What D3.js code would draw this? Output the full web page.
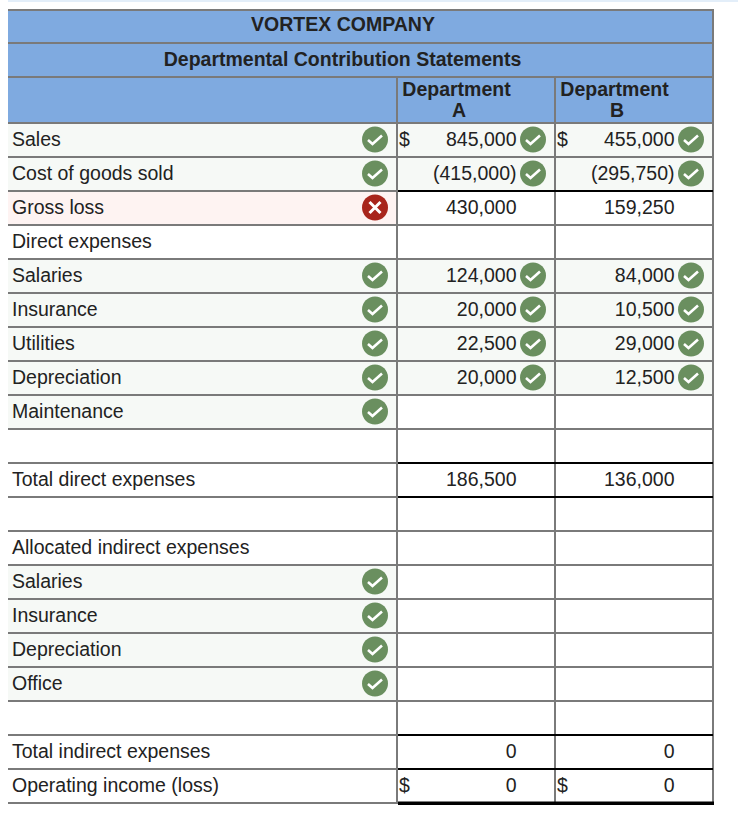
<!DOCTYPE html>
<html>
<head>
<meta charset="utf-8">
<script src="https://cdn.jsdelivr.net/npm/d3@7"></script>
<style>
  html, body { margin: 0; padding: 0; background: #fff; }
  svg { display: block; }
  text { font-family: "Liberation Sans", Arial, sans-serif; font-size: 19.5px; fill: #222; }
</style>
</head>
<body>
<div id="chart"></div>
<script>
var title = 'VORTEX COMPANY'
var subtitle = 'Departmental Contribution Statements'
var deptHeaders = [['Department', 'A'], ['Department', 'B']]

var rowLabels = ['Sales', 'Cost of goods sold', 'Gross loss', 'Direct expenses', 'Salaries', 'Insurance',
  'Utilities', 'Depreciation', 'Maintenance', '', 'Total direct expenses', '', 'Allocated indirect expenses',
  'Salaries', 'Insurance', 'Depreciation', 'Office', '', 'Total indirect expenses', 'Operating income (loss)']

var deptA = [845000, -415000, 430000, null, 124000, 20000, 22500, 20000, null, null, 186500, null, null, null, null, null, null, null, 0, 0]
var deptB = [455000, -295750, 159250, null, 84000, 10500, 29000, 12500, null, null, 136000, null, null, null, null, null, null, null, 0, 0]

// marks: 1 = check, 0 = cross, null = nothing
var labelMarks = [1, 1, 0, null, 1, 1, 1, 1, 1, null, null, null, null, 1, 1, 1, 1, null, null, null]
var deptAMarks = [1, 1, null, null, 1, 1, 1, 1, null, null, null, null, null, null, null, null, null, null, null, null]
var deptBMarks = [1, 1, null, null, 1, 1, 1, 1, null, null, null, null, null, null, null, null, null, null, null, null]

var dollarRows = [0, 19]
var ruleAbove = [2, 10, 11, 18, 19]   // black rule on top of the value cells
var doubleBottom = 19

var width = 738, height = 814
var svg = d3.select('#chart').append('svg').attr('width', width).attr('height', height)

var rows = d3.range(rowLabels.length)
var y = d3.scaleBand().domain(rows).range([123, 803])
// column edges
var x = d3.scaleOrdinal().domain(['label', 'a', 'b', 'end']).range([8, 397, 555, 713])

var grey = '#7a7a7a', headerBlue = '#7faae0', okBg = '#f6f9f6', badBg = '#fef3f2'

svg.append('rect').attr('x', 8).attr('y', 0).attr('width', 730).attr('height', 2).attr('fill', '#e3eef9')
svg.append('rect').attr('x', x('label')).attr('y', 10).attr('width', x('end') - x('label')).attr('height', 113).attr('fill', headerBlue)

var cols = [
  {key: 'label', next: 'a', marks: labelMarks},
  {key: 'a', next: 'b', marks: deptAMarks},
  {key: 'b', next: 'end', marks: deptBMarks}
]

// cell backgrounds
cols.forEach(function(c) {
  svg.append('g').selectAll('rect')
    .data(rows.filter(function(r) { return c.marks[r] !== null }))
    .join('rect')
    .attr('x', x(c.key))
    .attr('y', function(r) { return y(r) })
    .attr('width', x(c.next) - x(c.key))
    .attr('height', y.bandwidth())
    .attr('fill', function(r) { return c.marks[r] === 1 ? okBg : badBg })
})

// grey grid
var hLines = [10, 43, 77].concat(rows.map(function(r) { return y(r) })).concat([803])
svg.append('g').selectAll('line').data(hLines).join('line')
  .attr('x1', x('label')).attr('x2', x('end') + 1)
  .attr('y1', function(d) { return d }).attr('y2', function(d) { return d })
  .attr('stroke', grey).attr('stroke-width', 2)

svg.append('g').selectAll('line').data(['a', 'b']).join('line')
  .attr('x1', function(d) { return x(d) }).attr('x2', function(d) { return x(d) })
  .attr('y1', 77).attr('y2', 803)
  .attr('stroke', grey).attr('stroke-width', 2)

svg.append('line').attr('x1', x('end')).attr('x2', x('end')).attr('y1', 10).attr('y2', 804)
  .attr('stroke', grey).attr('stroke-width', 2)

// black rules over the value columns
svg.append('g').selectAll('line').data(ruleAbove).join('line')
  .attr('x1', x('a') + 1).attr('x2', x('end'))
  .attr('y1', function(r) { return y(r) }).attr('y2', function(r) { return y(r) })
  .attr('stroke', '#000').attr('stroke-width', 2)

svg.append('rect').attr('x', x('a') + 1).attr('y', y(doubleBottom) + y.bandwidth() - 1.5)
  .attr('width', x('end') - x('a')).attr('height', 3.5).attr('fill', '#000')

// header text
svg.append('text').attr('x', 343).attr('y', 31).attr('text-anchor', 'middle').attr('font-weight', 'bold').text(title)
svg.append('text').attr('x', 342.5).attr('y', 65.5).attr('text-anchor', 'middle').attr('font-weight', 'bold').text(subtitle)

deptHeaders.forEach(function(h, i) {
  var left = x(i == 0 ? 'a' : 'b')
  svg.append('text').attr('x', left + 59.5).attr('y', 95.5).attr('text-anchor', 'middle').attr('font-weight', 'bold').text(h[0])
  svg.append('text').attr('x', left + 62).attr('y', 117).attr('text-anchor', 'middle').attr('font-weight', 'bold').text(h[1])
})

// row labels
svg.append('g').selectAll('text').data(rows).join('text')
  .attr('x', 12)
  .attr('y', function(r) { return y(r) + 22.5 })
  .text(function(r) { return rowLabels[r] })

function fmt(v) {
  if (v < 0) return '(' + d3.format(',')(-v) + ')'
  return d3.format(',')(v)
}

// values and dollar signs
var valueCols = [{key: 'a', values: deptA}, {key: 'b', values: deptB}]
valueCols.forEach(function(c) {
  svg.append('g').selectAll('text')
    .data(rows.filter(function(r) { return c.values[r] !== null }))
    .join('text')
    .attr('x', x(c.key) + 119.5)
    .attr('y', function(r) { return y(r) + 22.5 })
    .attr('text-anchor', 'end')
    .text(function(r) { return fmt(c.values[r]) })

  svg.append('g').selectAll('text')
    .data(dollarRows)
    .join('text')
    .attr('x', x(c.key) + 2)
    .attr('y', function(r) { return y(r) + 22.5 })
    .text('$')
})

// check / cross badges
var iconX = {label: 375, a: 533, b: 691}
cols.forEach(function(c) {
  var g = svg.append('g').selectAll('g')
    .data(rows.filter(function(r) { return c.marks[r] !== null }))
    .join('g')
    .attr('transform', function(r) { return 'translate(' + iconX[c.key] + ',' + (y(r) + y.bandwidth() / 2 - 0.5) + ')' })

  g.append('circle').attr('r', 13)
    .attr('fill', function(r) { return c.marks[r] === 1 ? '#6a8f5f' : '#a8251c' })

  g.append('path')
    .attr('d', function(r) {
      return c.marks[r] === 1 ? 'M-7,0.5L-2.5,4.5L7,-4' : 'M-5.5,-5.5L5.5,5.5M5.5,-5.5L-5.5,5.5'
    })
    .attr('fill', 'none').attr('stroke', '#fff')
    .attr('stroke-width', function(r) { return c.marks[r] === 1 ? 2.6 : 3 })
})
</script>
</body>
</html>
